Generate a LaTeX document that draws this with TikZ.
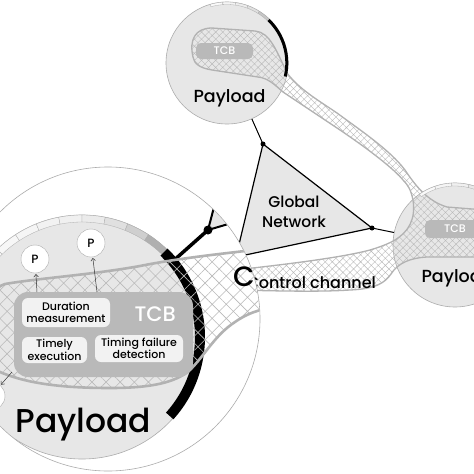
\documentclass[tikz,border=0pt]{standalone}
\usepackage{fontspec}
\setmainfont{Poppins}[UprightFont={* Medium}]
\usetikzlibrary{positioning, calc, arrows.meta, patterns.meta, shapes}

\tikzstyle{hatched} = [
	pattern={Hatch[angle=45,distance=5pt,line width=.4pt]},
	pattern color=gray!55
	]
\tikzstyle{hatchedbig} = [
	pattern={Hatch[angle=45,distance=10pt,line width=.6pt]},
	pattern color=gray!55
	]
\tikzstyle{PArrow} = [
	line width=.5pt, draw=gray!40!black,
	-{To[length=3pt,width=5pt]},
	shorten >= 1pt
	]

\begin{document}
\begin{tikzpicture}[x=1pt, y=-1pt,
payload/.style={circle, fill=gray!19, draw=gray!65, line width=.6pt, inner sep=0pt},
tcb/.style={rectangle, rounded corners=5, fill=gray!55, text=white, inner sep=0pt},
subbox/.style={rectangle, rounded corners=6, fill=gray!10, align=center,
	inner sep=0pt, font=\fontsize{11}{12.5}\selectfont},
pnode/.style={circle, fill=white, draw=gray!65, minimum size=28, inner sep=0pt,
	font=\fontsize{12}{12}\selectfont},
seg/.style={draw=gray!65, line width=.3pt},
net/.style={draw=black, line width=1.2pt, line join=round}
]
\useasboundingbox[fill=white] (0,0) rectangle (474,474);

% global network
\coordinate (gTop) at (263,144);
\coordinate (gRight) at (372,228);
\coordinate (gLeft) at (236,257);
\filldraw[net, fill=gray!19] (gTop) -- (gRight) -- (gLeft) -- cycle;
\node[align=center, font=\fontsize{15.5}{20}\selectfont] (gnet) at (294,212) {Global\\Network};

% payloads
\node[payload, minimum size=122] (topPL) at (227,63) {};
\node[payload, minimum size=124] (rightPL) at (455,245) {};

% channels
\path[hatched, draw=gray!60, line width=1.3pt]
 (193,57) .. controls (189,40) and (195,28) .. (212,28)
 -- (255,31) .. controls (270,32) and (277,52) .. (287,73)
 .. controls (300,90) and (318,100) .. (337,113)
 .. controls (360,130) and (390,150) .. (405,170)
 .. controls (415,185) and (427,201) .. (447,207)
 -- (485,210) -- (485,257) -- (427,257)
 .. controls (410,258) and (398,263) .. (391,274)
 .. controls (385,283) and (375,289) .. (350,290)
 .. controls (320,292) and (280,291) .. (235,290)
 -- (235,270)
 .. controls (280,265) and (340,258) .. (370,250)
 .. controls (380,247) and (388,244) .. (395,240)
 .. controls (408,232) and (416,220) .. (413,200)
 .. controls (411,190) and (408,185) .. (403,180)
 .. controls (395,170) and (370,150) .. (337,128)
 .. controls (310,110) and (292,98) .. (283,92)
 .. controls (275,85) and (268,78) .. (258,77)
 -- (212,70) .. controls (200,68) and (194,64) .. (193,57) -- cycle;

% rings
\foreach \a/\s in {106/5,94/9,82/14,70/24,58/45}{
  \filldraw[seg, fill=gray!\s, shift={(topPL.center)}]
    (-\a:58.5) arc[start angle=-\a, end angle=-\a+12, radius=58.5]
    -- (-\a+12:61) arc[start angle=-\a+12, end angle=-\a, radius=61] -- cycle;
}
\fill[black, shift={(topPL.center)}]
  (-46:58.3) arc[start angle=-46, end angle=13, radius=58.3]
  -- (13:61.3) arc[start angle=13, end angle=-46, radius=61.3] -- cycle;
\foreach \a/\s in {125/5,109/8,93/12,77/18,61/30}{
  \filldraw[seg, fill=gray!\s, shift={(rightPL.center)}]
    (-\a:59) arc[start angle=-\a, end angle=-\a+16, radius=59]
    -- (-\a+16:62) arc[start angle=-\a+16, end angle=-\a, radius=62] -- cycle;
}

\node[tcb, minimum width=57, minimum height=16, font=\fontsize{11}{11}\selectfont] (topTCB) at (224.5,51) {TCB};
\node[tcb, minimum width=60, minimum height=18, font=\fontsize{11}{11}\selectfont] (rightTCB) at (455,229) {TCB};
\node[anchor=base west, font=\fontsize{17.5}{17.5}\selectfont] (topLbl) at (190,102) {Payload};
\node[anchor=base west, font=\fontsize{17.5}{17.5}\selectfont] (rightLbl) at (418,282) {Payload};

% links to the network
\draw[net, line width=1pt] (topPL) -- (gTop);
\draw[net, line width=1pt] (gRight) -- (rightPL);
\fill (gTop) circle[radius=2.5];
\fill (gRight) circle[radius=2.5];

\node[anchor=base west, font=\fontsize{16}{16}\selectfont] (ctrl) at (243,288) {Control channel};

% magnifier
\node[circle, fill=white, minimum size=304, inner sep=0pt] (lens) at (108,319) {};
\begin{scope}
\clip (lens.center) circle[radius=151.6];
\coordinate (mCorner) at (208,230);
\fill[gray!19] (mCorner) -- (219,188) -- (252,217) -- cycle;
\draw[black, line width=2pt] (219,188) -- (mCorner) -- (252,217);

\node[payload, minimum size=244] (lensPL) at (82,337) {};
\foreach \a/\s in {145/4,134/6,123/8,112/10,101/12,90/16,79/24,68/38,57/62}{
  \filldraw[seg, fill=gray!\s, shift={(lensPL.center)}]
    (-\a:115) arc[start angle=-\a, end angle=-\a+11, radius=115]
    -- (-\a+11:122) arc[start angle=-\a+11, end angle=-\a, radius=122] -- cycle;
}
\fill[black, shift={(lensPL.center)}]
  (-46:113) arc[start angle=-46, end angle=42, radius=113]
  -- (42:123) arc[start angle=42, end angle=-46, radius=123] -- cycle;

\coordinate (mRing) at (172,262);
\draw[black, line width=3.5pt] (mCorner) -- (mRing);
\fill (mCorner) circle[radius=4.5];

\path[hatchedbig, draw=gray!60, line width=2.6pt]
 (262,249) .. controls (220,254) and (180,258) .. (140,266)
 .. controls (90,275) and (40,278) .. (5,284)
 .. controls (-20,290) and (-25,360) .. (0,372)
 .. controls (30,385) and (70,388) .. (110,388)
 .. controls (150,388) and (175,383) .. (190,370)
 .. controls (205,355) and (215,335) .. (235,322)
 .. controls (245,315) and (255,311) .. (265,309) -- cycle;

\node[tcb, rounded corners=14, minimum width=179, minimum height=85] (tcbL) at (103.5,334.5) {};
\node[anchor=base west, text=white, font=\fontsize{21}{21}\selectfont] (tcbLbl) at (131,321) {TCB};
\node[subbox, minimum width=88, minimum height=29] (dur) at (66,312.5) {Duration\\measurement};
\node[subbox, minimum width=65, minimum height=26] (timely) at (54.5,350) {Timely\\execution};
\node[subbox, minimum width=88, minimum height=27] (tfd) at (139,348.5) {Timing failure\\detection};

\node[pnode] (p1) at (35,259) {P};
\node[pnode] (p2) at (91,243) {P};
\node[pnode] (p3) at (-9,396) {P};
\coordinate (a1) at (37,292);
\coordinate (a2) at (97,292);
\coordinate (a3) at (12,372);
\draw[PArrow] (a1) -- (p1);
\draw[PArrow] (a2) -- (p2);
\draw[PArrow] (a3) -- (p3);

\node[anchor=base west, font=\fontsize{33}{33}\selectfont] (bigPL) at (12,432) {Payload};
\node[font=\fontsize{28}{28}\selectfont] (bigC) at (244,277) {C};
\end{scope}
\draw[gray!65, line width=.6pt] (lens.center) circle[radius=152];

\end{tikzpicture}
\end{document}
